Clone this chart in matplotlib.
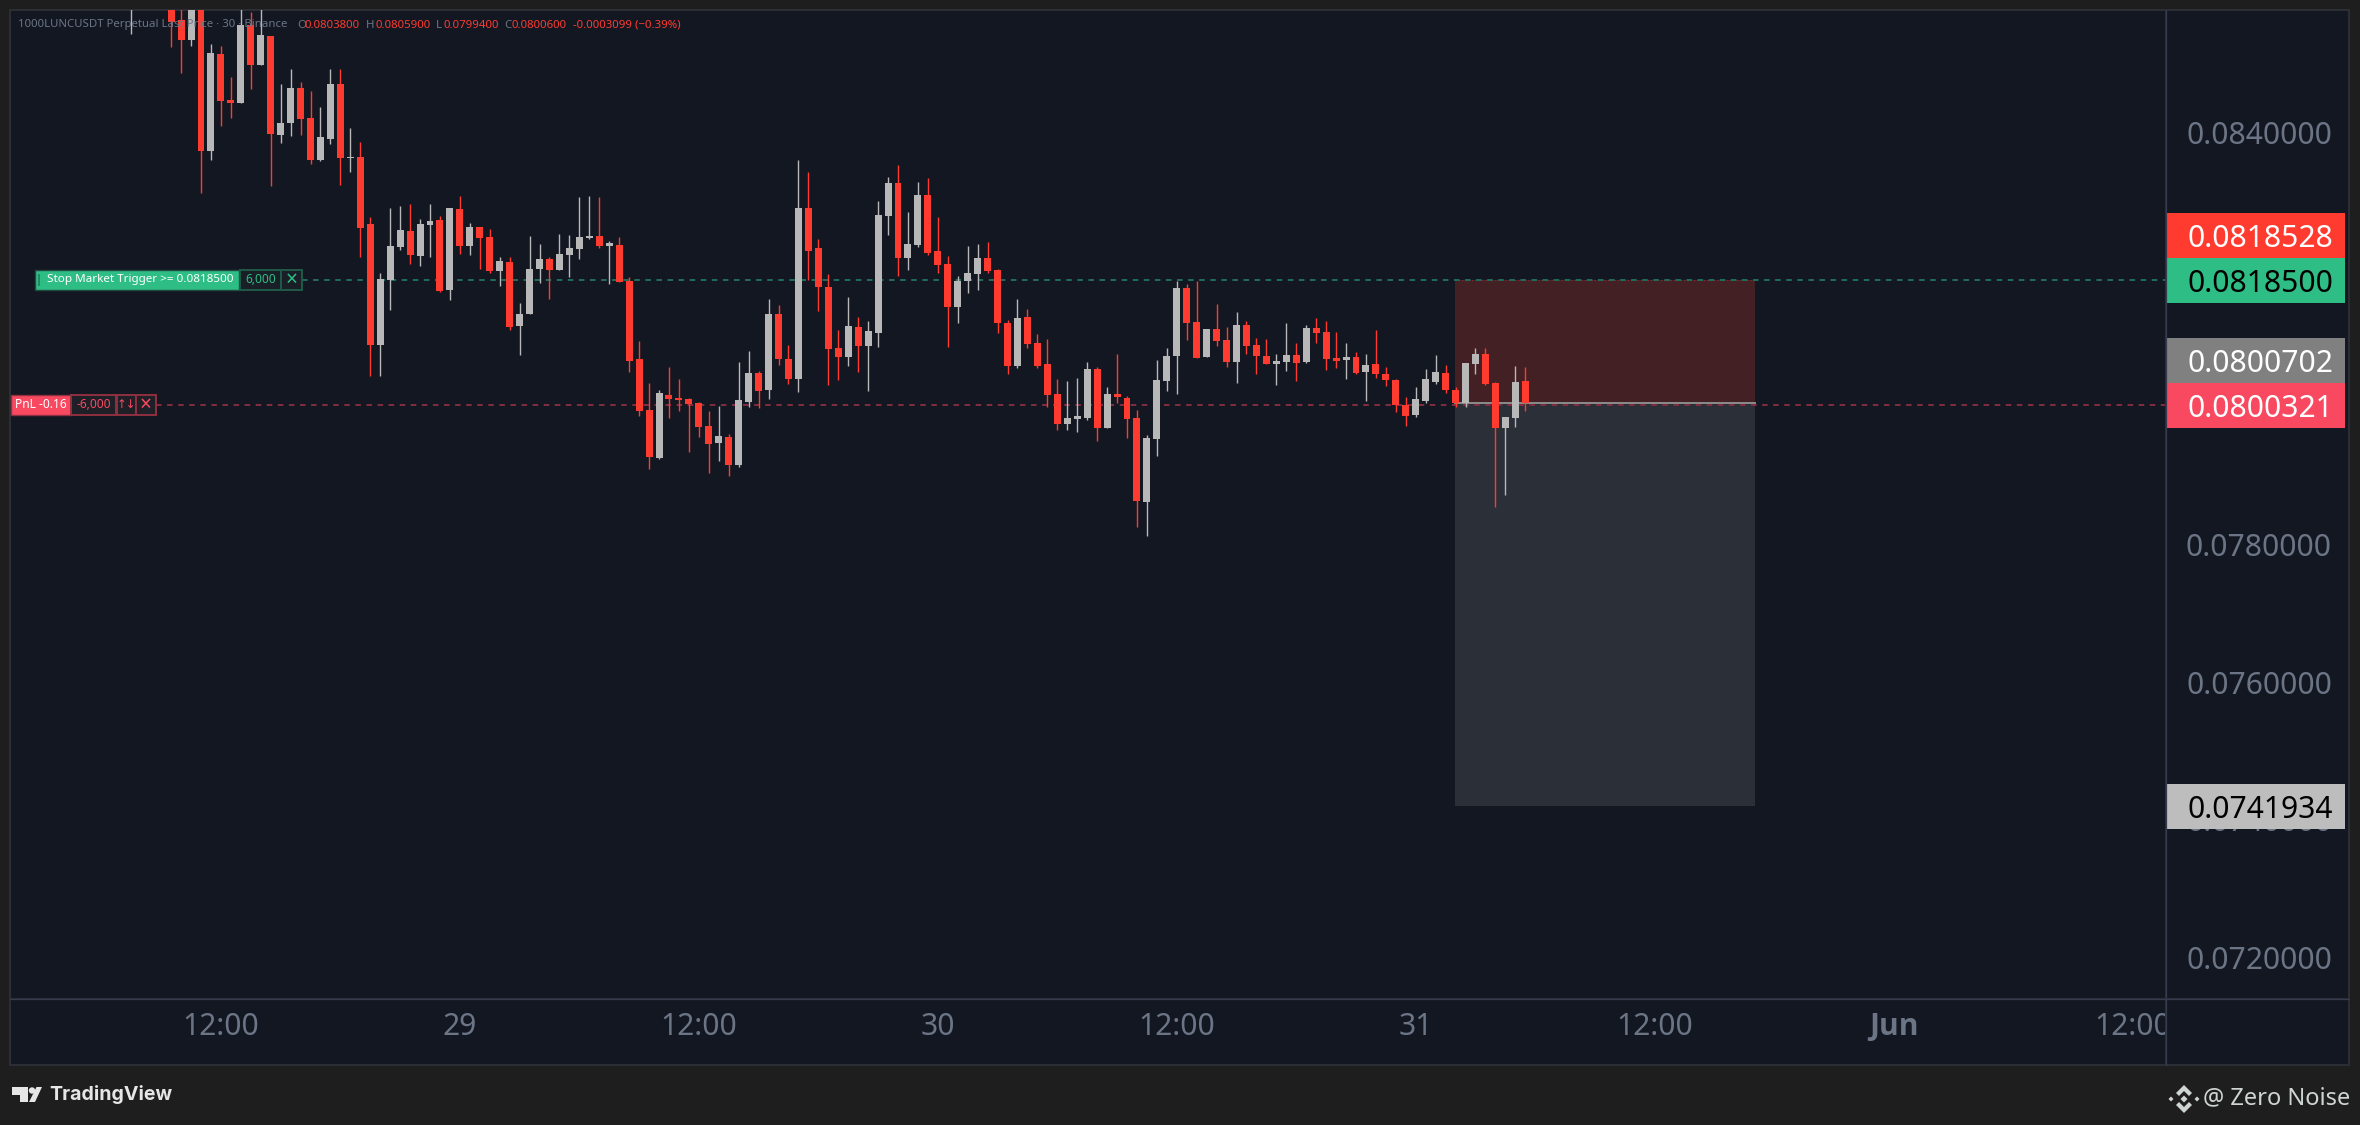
import matplotlib
matplotlib.use('Agg')
import matplotlib.pyplot as plt
from matplotlib.patches import Rectangle, Polygon, Circle

# OHLC of the 30 minute candles (first four sit above the view)
opens = [
    0.08600, 0.08630, 0.08650, 0.08620, 0.08610, 0.085631, 0.085341, 0.08590, 0.083726, 0.085137,
    0.084468, 0.084424, 0.085559, 0.084977, 0.085399, 0.083959, 0.084133, 0.084642, 0.084206, 0.083595,
    0.083901, 0.084701, 0.083624, 0.083638, 0.082664, 0.080904, 0.08185, 0.082329, 0.082562, 0.082198,
    0.082649, 0.082722, 0.081704, 0.082882, 0.082344, 0.08262, 0.082475, 0.08198, 0.082111, 0.08118,
    0.081355, 0.082009, 0.082155, 0.081995, 0.082213, 0.0823, 0.082461, 0.08249, 0.082344, 0.082359,
    0.081835, 0.080701, 0.079959, 0.079261, 0.080177, 0.080134, 0.080119, 0.080061, 0.079726, 0.079479,
    0.079566, 0.079159, 0.080075, 0.080497, 0.08025, 0.081355, 0.080701, 0.08041, 0.082897, 0.082315,
    0.081748, 0.080861, 0.08073, 0.081166, 0.08089, 0.081079, 0.082781, 0.083261, 0.08217, 0.082359,
    0.083086, 0.082272, 0.082083, 0.081457, 0.081835, 0.081937, 0.08217, 0.081995, 0.081224, 0.080599,
    0.081312, 0.080934, 0.080628, 0.080192, 0.079756, 0.079828, 0.079843, 0.080556, 0.079698, 0.080192,
    0.080134, 0.079843, 0.078621, 0.079538, 0.080381, 0.080745, 0.081734, 0.081239, 0.08073, 0.081137,
    0.080978, 0.080658, 0.081196, 0.080905, 0.080745, 0.080628, 0.080658, 0.080759, 0.080658, 0.081152,
    0.081094, 0.080716, 0.080687, 0.08073, 0.080512, 0.080628, 0.080483, 0.080396, 0.080032, 0.079887,
    0.08009, 0.080367, 0.080498, 0.08025, 0.080061, 0.080628, 0.080774, 0.080352, 0.079698, 0.079843,
    0.08038,
]
highs = [
    0.08650, 0.08660, 0.08665, 0.08630, 0.08625, 0.08590, 0.08595, 0.08600, 0.085282, 0.085253,
    0.084802, 0.08590, 0.085748, 0.08590, 0.085399, 0.084701, 0.084919, 0.08473, 0.084599, 0.084366,
    0.084919, 0.084919, 0.084061, 0.083856, 0.082766, 0.081951, 0.082897, 0.082926, 0.082955, 0.082737,
    0.082955, 0.08278, 0.082897, 0.083071, 0.082678, 0.08262, 0.082591, 0.082184, 0.082184, 0.081515,
    0.082489, 0.082373, 0.082184, 0.082518, 0.082504, 0.083057, 0.083072, 0.083057, 0.082417, 0.082475,
    0.081893, 0.080963, 0.080352, 0.08025, 0.080584, 0.08041, 0.080134, 0.080075, 0.079945, 0.080017,
    0.07961, 0.080657, 0.080817, 0.080526, 0.081573, 0.081486, 0.080904, 0.083595, 0.083421, 0.082446,
    0.081937, 0.081123, 0.081603, 0.081312, 0.081254, 0.082999, 0.083348, 0.083522, 0.082839, 0.083275,
    0.083333, 0.082766, 0.082199, 0.081908, 0.082344, 0.082373, 0.082402, 0.08201, 0.081268, 0.081573,
    0.081428, 0.081064, 0.080992, 0.08041, 0.080381, 0.080425, 0.080657, 0.080584, 0.080294, 0.080774,
    0.080163, 0.07996, 0.079596, 0.080687, 0.080861, 0.081836, 0.081792, 0.081836, 0.081137, 0.081501,
    0.081167, 0.081385, 0.081254, 0.081007, 0.080992, 0.080774, 0.081225, 0.080934, 0.081196, 0.081297,
    0.081254, 0.081094, 0.080934, 0.080803, 0.080774, 0.081123, 0.080585, 0.08041, 0.080148, 0.080294,
    0.080556, 0.080759, 0.080614, 0.080294, 0.080643, 0.080861, 0.080861, 0.080367, 0.079858, 0.080599,
    0.08059,
]
lows = [
    0.085428, 0.08610, 0.08605, 0.08590, 0.085239, 0.084861, 0.085258, 0.083115, 0.083595, 0.08409,
    0.084206, 0.084424, 0.084628, 0.084977, 0.083217, 0.083843, 0.083944, 0.083959, 0.083537, 0.083581,
    0.083828, 0.083232, 0.083421, 0.082184, 0.080453, 0.080453, 0.081413, 0.082286, 0.082082, 0.082053,
    0.082184, 0.081675, 0.081558, 0.082228, 0.082213, 0.082009, 0.081951, 0.081762, 0.081122, 0.080759,
    0.081355, 0.081806, 0.081573, 0.081995, 0.081893, 0.082155, 0.082446, 0.082315, 0.081792, 0.081821,
    0.080512, 0.079872, 0.079101, 0.079246, 0.079843, 0.079945, 0.079348, 0.079566, 0.079043, 0.079217,
    0.078999, 0.07913, 0.080003, 0.079988, 0.080119, 0.080614, 0.080337, 0.080221, 0.08185, 0.081399,
    0.080323, 0.080395, 0.080599, 0.080512, 0.080235, 0.080875, 0.082504, 0.081908, 0.081995, 0.08233,
    0.082213, 0.081952, 0.080875, 0.081224, 0.081661, 0.081704, 0.081952, 0.081079, 0.080483, 0.08057,
    0.080861, 0.08057, 0.080003, 0.079668, 0.079668, 0.079639, 0.079814, 0.079508, 0.079698, 0.080061,
    0.079552, 0.078258, 0.078127, 0.07929, 0.080236, 0.080192, 0.080978, 0.080716, 0.08073, 0.08089,
    0.080585, 0.080352, 0.080774, 0.080483, 0.080628, 0.080323, 0.080527, 0.080381, 0.080643, 0.080934,
    0.080541, 0.08057, 0.08041, 0.080483, 0.08009, 0.080425, 0.080309, 0.07993, 0.079727, 0.079858,
    0.080061, 0.080338, 0.080207, 0.080003, 0.080003, 0.080483, 0.080323, 0.078549, 0.078723, 0.079712,
    0.07994,
]
closes = [
    0.08630, 0.08650, 0.08620, 0.08610, 0.085602, 0.085341, 0.08585, 0.083726, 0.085152, 0.084453,
    0.084424, 0.085559, 0.084977, 0.085413, 0.083973, 0.084133, 0.084642, 0.084192, 0.083595, 0.08393,
    0.084701, 0.083624, 0.083639, 0.082606, 0.080904, 0.081864, 0.082344, 0.082577, 0.082213, 0.082664,
    0.082708, 0.08169, 0.082897, 0.082344, 0.08262, 0.08246, 0.08198, 0.082126, 0.081166, 0.081355,
    0.082009, 0.082155, 0.081995, 0.082228, 0.082315, 0.082475, 0.08249, 0.082344, 0.082388, 0.081821,
    0.080672, 0.079945, 0.079276, 0.080206, 0.080119, 0.080104, 0.080046, 0.079712, 0.079465, 0.079581,
    0.079159, 0.080104, 0.080497, 0.080235, 0.081355, 0.080701, 0.08041, 0.082897, 0.082272, 0.081748,
    0.080846, 0.08073, 0.081181, 0.08089, 0.081108, 0.082795, 0.083261, 0.08217, 0.082373, 0.083086,
    0.082243, 0.082068, 0.081457, 0.081835, 0.081952, 0.08217, 0.081981, 0.081224, 0.080599, 0.081297,
    0.080919, 0.080599, 0.080177, 0.079756, 0.079843, 0.079872, 0.080556, 0.079698, 0.080192, 0.080148,
    0.079828, 0.078636, 0.079552, 0.080396, 0.080745, 0.081734, 0.081225, 0.080716, 0.081137, 0.080963,
    0.080658, 0.081196, 0.08089, 0.080745, 0.080628, 0.080672, 0.080759, 0.080643, 0.081152, 0.081079,
    0.080701, 0.080672, 0.08073, 0.080498, 0.080614, 0.080483, 0.080396, 0.080032, 0.079872, 0.080119,
    0.08041, 0.080512, 0.08025, 0.080061, 0.080643, 0.080774, 0.080338, 0.079698, 0.079858, 0.080367,
    0.08006,
]

# axis labels, with the candle each time label belongs to
time_ticks = [9, 33, 57, 81, 105, 129, 153, 177, 201]
time_labels = ['12:00', '29', '12:00', '30', '12:00', '31', '12:00', 'Jun', '12:00']
price_ticks = [0.072, 0.074, 0.076, 0.078, 0.080, 0.082, 0.084]
price_labels = ['0.0720000', '0.0740000', '0.0760000', '0.0780000', '0.0800000', '0.0820000', '0.0840000']

# order lines and the short position tool
stop_order = 0.08185
pnl_line = 0.0800321
entry = 0.08006
stop = 0.0818528
target = 0.0741934
last_price = 0.0800702
tool_left, tool_right = 132.94, 163.07

W, H = 2360, 1125
BG = '#1e1e1e'
PANE = '#131722'
EDGE = '#2c2f36'
AXIS = '#363c4e'
RED = '#ff3b30'
GREY = '#b8b8b8'
GREEN = '#2ebd85'
PINK = '#f84960'
MUTED = '#6c7585'
FONT = 'Noto Sans'

plt.rcParams['font.family'] = FONT

fig = plt.figure(figsize=(W / 100, H / 100), dpi=100, facecolor=BG)


def px_axes(x0, y0, x1, y1):
    # axes from pixel corners, y counted from the top
    a = fig.add_axes([x0 / W, 1 - y1 / H, (x1 - x0) / W, (y1 - y0) / H], facecolor=PANE)
    a.tick_params(length=0, labelleft=False, labelbottom=False)
    a.set_xticks([])
    a.set_yticks([])
    for s in a.spines.values():
        s.set_color(EDGE)
        s.set_linewidth(1.4)
    return a


ax = px_axes(10, 10, 2166, 999)
ax_price = px_axes(2166, 10, 2349, 999)
ax_time = px_axes(10, 999, 2166, 1065)
ax_corner = px_axes(2166, 999, 2349, 1065)

xlim = ((10 - 131.3) / 9.957, (2166 - 131.3) / 9.957)
ylim = (0.071393, 0.085777)
ax.set_xlim(xlim)
ax.set_ylim(ylim)
ax_price.set_ylim(ylim)
ax_time.set_xlim(xlim)

# position tool behind the candles
ax.add_patch(Rectangle((tool_left, entry), tool_right - tool_left, stop - entry, fc='#432024', ec='none', zorder=1))
ax.add_patch(Rectangle((tool_left, target), tool_right - tool_left, entry - target, fc='#2b2f38', ec='none', zorder=1))
ax.plot([tool_left, tool_right], [stop, stop], color='#8a2c35', lw=0.9, ls=':', zorder=1.5)
ax.plot([tool_left, tool_right], [entry, entry], color='#8c8c8c', lw=1.4, zorder=2)

# dashed order lines
dash = (0, (2.75, 2.75))
ax.plot([17.1, xlim[1]], [stop_order, stop_order], color='#1f6b58', lw=1.45, ls=dash, zorder=2)
ax.plot([2.5, xlim[1]], [pnl_line, pnl_line], color='#7f2c3f', lw=1.45, ls=dash, zorder=2)

# candles
idx = list(range(len(opens)))
colors = [GREY if c >= o else RED for o, c in zip(opens, closes)]
ax.vlines(idx, lows, highs, colors=colors, lw=1.0, zorder=3)
ax.bar(idx, [abs(c - o) for o, c in zip(opens, closes)], bottom=[min(o, c) for o, c in zip(opens, closes)],
       width=0.7, color=colors, linewidth=0, zorder=3)

# price scale, labels pulled inside the strip with a negative pad
ax_price.set_yticks(price_ticks, price_labels)
ax_price.tick_params(axis='y', length=0, labelleft=True, pad=-119.5, labelsize=21.6, labelcolor=MUTED)
ax_price.set_axisbelow(True)

# price tags: value, fill, text colour, shift in pixels for the stacked ones
tag_values = [stop, stop_order, last_price, pnl_line, target]
tag_fills = [RED, GREEN, '#808080', '#f84960', '#bdbdbd']
tag_texts = ['white', 'black', 'white', 'white', 'black']
tag_shift = [-44.3, 0, -41.9, 0, 0]
tag_labels = ['0.0818528', '0.0818500', '0.0800702', '0.0800321', '0.0741934']
px_price = (ylim[1] - ylim[0]) / 989
for v, fc, tc, sh, lab in zip(tag_values, tag_fills, tag_texts, tag_shift, tag_labels):
    mid = v - sh * px_price
    ax_price.add_patch(Rectangle((0.005, mid - 22.5 * px_price), 0.973, 45 * px_price, fc=fc, ec='none', zorder=3))
    ax_price.text(0.912, mid, lab, color=tc, fontsize=21.6, ha='right', va='center_baseline',
                  transform=ax_price.get_yaxis_transform(), zorder=4)

# time scale, the last label gets cut by the pane edge
for t, lab in zip(time_ticks, time_labels):
    ax_time.text(t, 0.58, lab, color=MUTED, fontsize=21.6, ha='center', va='center',
                 fontweight='bold' if lab == 'Jun' else 'normal', family='Open Sans' if lab == 'Jun' else FONT,
                 transform=ax_time.get_xaxis_transform(), clip_on=True)

# overlay in pixel coordinates for legend, order tags and footer
ov = fig.add_axes([0, 0, 1, 1], zorder=10)
ov.set_xlim(0, W)
ov.set_ylim(H, 0)
ov.axis('off')

# scale lines go over all panes
ov.plot([2166, 2166], [10, 1065], color=AXIS, lw=0.9)
ov.plot([10, 2349], [999, 999], color=AXIS, lw=0.9)


def box(x0, y0, x1, y1, fc, ec='none', lw=0):
    ov.add_patch(Rectangle((x0, y0), x1 - x0, y1 - y0, fc=fc, ec=ec, lw=lw))


legend_parts = [
    (18, '1000LUNCUSDT Perpetual Last Price · 30 · Binance', MUTED),
    (297, 'O', MUTED), (304.5, '0.0803800', RED),
    (366, 'H', MUTED), (375, '0.0805900', RED),
    (436, 'L', MUTED), (443, '0.0799400', RED),
    (504, 'C', MUTED), (511, '0.0800600', RED),
    (573, '-0.0003099 (−0.39%)', RED),
]
for x, s, c in legend_parts:
    ov.text(x, 25, s, color=c, fontsize=8.2, ha='left', va='center')

# stop order tag
box(34.5, 270, 239, 289.5, GREEN, '#1f4a3e', 1)
box(38, 274, 40, 286, '#1f8a63')
ov.text(47, 279.5, 'Stop Market Trigger >= 0.0818500', color='white', fontsize=8.4, ha='left', va='center')
box(240, 269.5, 281, 290, '#1a1e26', '#1d5b48', 1.4)
ov.text(260.5, 279.5, '6,000', color=GREEN, fontsize=8.6, ha='center', va='center')
box(281, 269.5, 302, 290, '#1a1e26', '#1d5b48', 1.4)
ov.text(291.5, 280, '×', color=GREEN, fontsize=15, ha='center', va='center')

# pnl tag
box(10.7, 395, 70.7, 415, PINK, '#8f3040', 1)
ov.text(40.5, 404.5, 'PnL -0.16', color='white', fontsize=8.6, ha='center', va='center')
box(71, 395, 116, 415, '#1e1f27', '#8f3040', 1.4)
ov.text(94, 404.5, '-6,000', color=PINK, fontsize=8.6, ha='center', va='center')
box(116.5, 395, 136, 415, '#1e1f27', '#8f3040', 1.4)
ov.text(126.3, 404.5, '↑↓', color=PINK, fontsize=8.4, ha='center', va='center', family='DejaVu Sans')
box(136, 395, 156, 415, '#1e1f27', '#8f3040', 1.4)
ov.text(146, 405, '×', color=PINK, fontsize=15, ha='center', va='center')

# footer, left logo and name
LOGO = '#e6e6e6'
ov.add_patch(Polygon([(12, 1087), (28, 1087), (28, 1102), (20, 1102), (20, 1095), (12, 1095)], fc=LOGO, ec='none'))
ov.add_patch(Circle((32, 1090.5), 3.2, fc=LOGO, ec='none'))
ov.add_patch(Polygon([(36.5, 1087), (42, 1087), (35, 1102), (29, 1102)], fc=LOGO, ec='none'))
ov.text(49, 1095, 'TradingView', color=LOGO, fontsize=14.1, fontweight='bold', family='Inter',
        ha='left', va='center')

# footer, right mark and name
MARK = '#cfd5d2'
cx, cy = 2184, 1099
ov.add_patch(Polygon([(cx, cy - 14), (cx + 8, cy - 6), (cx + 5, cy - 3), (cx, cy - 8), (cx - 5, cy - 3), (cx - 8, cy - 6)], fc=MARK, ec='none'))
ov.add_patch(Polygon([(cx, cy + 14), (cx + 8, cy + 6), (cx + 5, cy + 3), (cx, cy + 8), (cx - 5, cy + 3), (cx - 8, cy + 6)], fc=MARK, ec='none'))
ov.add_patch(Polygon([(cx, cy - 3.5), (cx + 3.5, cy), (cx, cy + 3.5), (cx - 3.5, cy)], fc=MARK, ec='none'))
ov.add_patch(Polygon([(cx - 13, cy - 2.5), (cx - 10.5, cy), (cx - 13, cy + 2.5), (cx - 15.5, cy)], fc=MARK, ec='none'))
ov.add_patch(Polygon([(cx + 13, cy - 2.5), (cx + 15.5, cy), (cx + 13, cy + 2.5), (cx + 10.5, cy)], fc=MARK, ec='none'))
ov.text(2350, 1098, '@ Zero Noise', color=MARK, fontsize=17, ha='right', va='center')

fig.savefig('out.png', dpi=100, facecolor=BG)
